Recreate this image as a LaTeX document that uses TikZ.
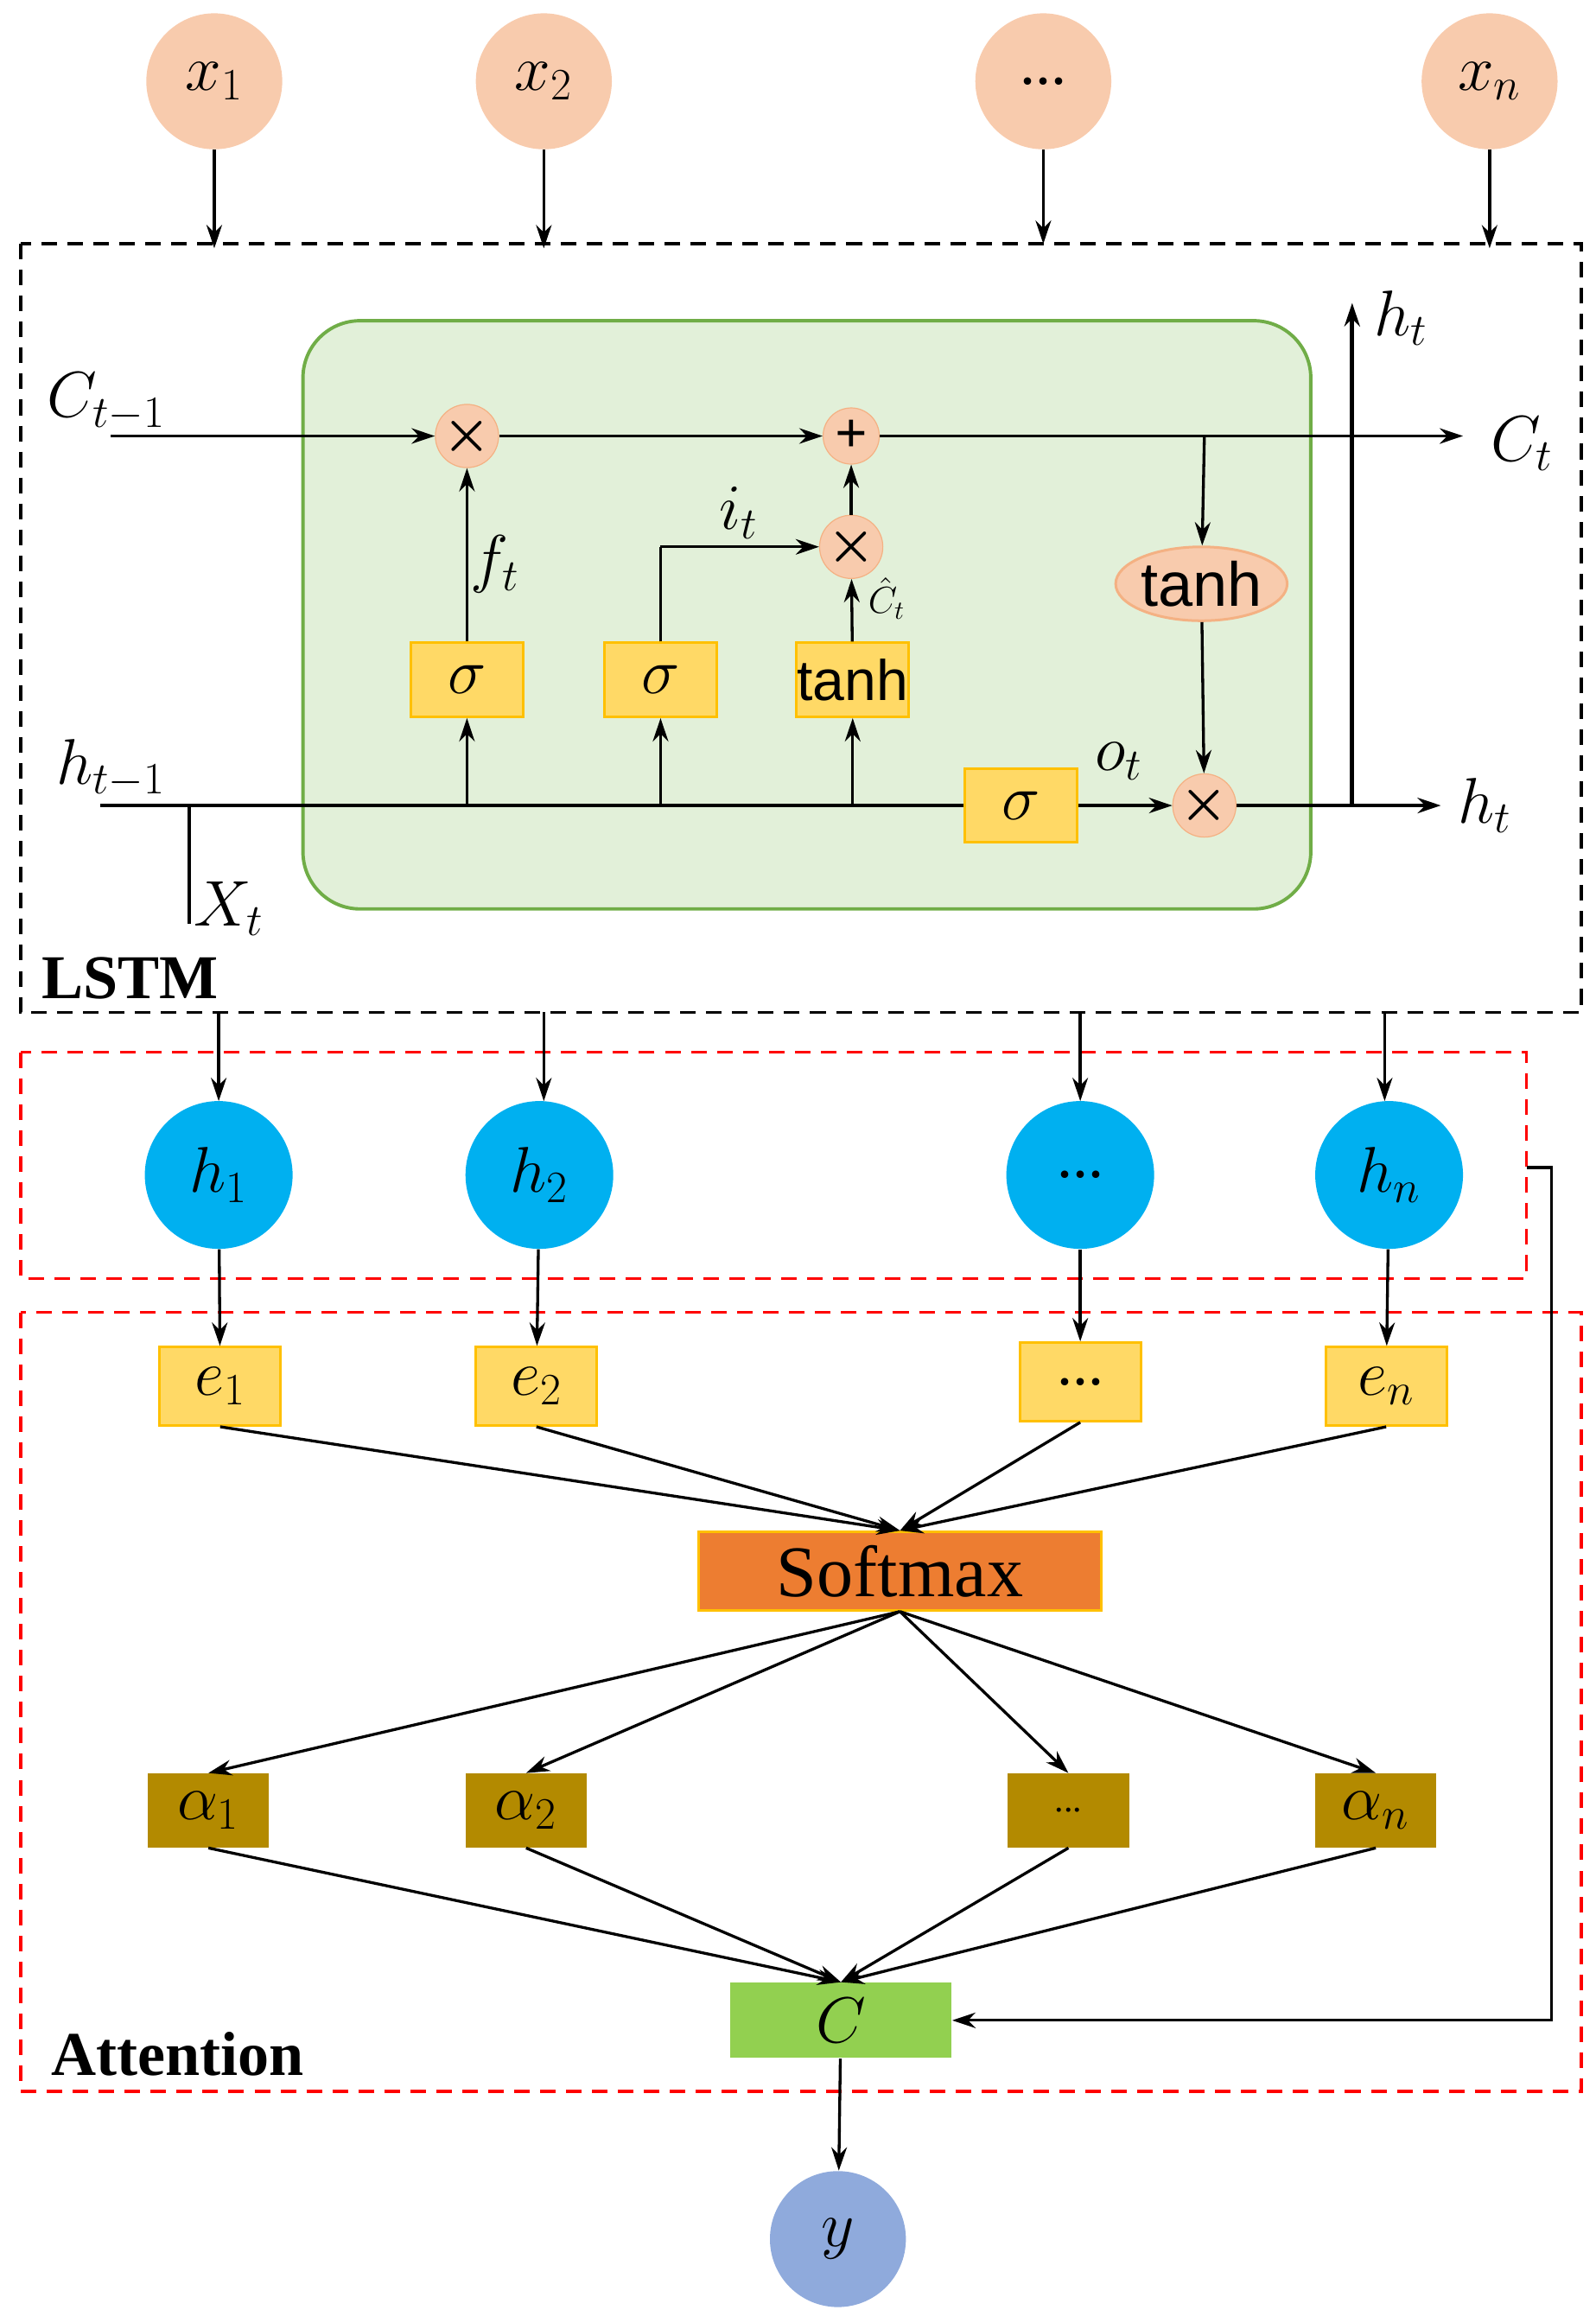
\documentclass[tikz,border=0pt]{standalone}
\usepackage{fontspec}
\setmainfont{Liberation Serif}
\newfontfamily\arialf{Liberation Sans}
\usetikzlibrary{shapes.geometric,arrows.meta}
\definecolor{peach}{HTML}{F8CBAD}
\definecolor{peachb}{HTML}{F4B183}
\definecolor{ylw}{HTML}{FFD966}
\definecolor{ylwb}{HTML}{FFC000}
\definecolor{hblue}{HTML}{00B0F0}
\definecolor{org}{HTML}{ED7D31}
\definecolor{gold}{HTML}{B38A00}
\definecolor{grn}{HTML}{92D050}
\definecolor{ycol}{HTML}{8FAADC}
\definecolor{lgrn}{HTML}{E2F0D9}
\definecolor{dgrn}{HTML}{70AD47}
\begin{document}
\begin{tikzpicture}[x=0.02cm,y=-0.02cm,
 font=\fontsize{24}{28}\selectfont,
 ar/.style={-{Stealth[length=9pt,width=6pt]},line width=1.1pt},
 ln/.style={line width=1.1pt},
 xin/.style={circle,fill=peach,minimum size=92*0.02cm,inner sep=0},
 op/.style={circle,fill=peach,draw=peachb,minimum size=38*0.02cm,inner sep=0,font=\fontsize{22}{24}\selectfont\bfseries\boldmath},
 sg/.style={rectangle,fill=ylw,draw=ylwb,line width=1pt,minimum width=76*0.02cm,minimum height=50*0.02cm,inner sep=0},
 hc/.style={circle,fill=hblue,minimum size=100*0.02cm,inner sep=0},
 eb/.style={rectangle,fill=ylw,draw=ylwb,line width=1pt,minimum width=82*0.02cm,minimum height=53*0.02cm,inner sep=0},
 ab/.style={rectangle,fill=gold,minimum width=82*0.02cm,minimum height=50*0.02cm,inner sep=0},
 lbl/.style={inner sep=0}]
\useasboundingbox (0,0) rectangle (1080,1563);
% inputs
\node[xin] (x1) at (145,55) {$x_1$};
\node[xin] (x2) at (368,55) {$x_2$};
\node[xin] (x3) at (706,55) {...};
\node[xin] (xn) at (1008,55) {$x_n$};
\coordinate (ix1) at (145,168); \coordinate (ix2) at (368,168);
\coordinate (ix3) at (706,165); \coordinate (ixn) at (1008,168);
\foreach \a/\b in {x1/ix1,x2/ix2,x3/ix3,xn/ixn}{\draw[ar] (\a) -- (\b);}
% LSTM box
\draw[dashed,line width=1.2pt,dash pattern=on 6pt off 4pt] (14,165) rectangle (1070,685);
\draw[fill=lgrn,draw=dgrn,line width=1.3pt,rounded corners=22] (205,217) rectangle (887,615);
\node[font=\fontsize{24}{28}\selectfont\bfseries,lbl] (lstm) at (88,662) {LSTM};
% ops
\node[op] (m1) at (316,295) {$\times$};
\node[op] (pl) at (576,295) {+};
\node[op] (m2) at (576,370) {$\times$};
\node[op] (m3) at (815,545) {$\times$};
\node[sg] (s1) at (316,460) {$\sigma$};
\node[sg] (s2) at (447,460) {$\sigma$};
\node[sg,font=\fontsize{22}{24}\selectfont] (tb) at (577,460) {\arialf tanh};
\node[sg] (s3) at (691,545) {$\sigma$};
\node[ellipse,fill=peach,draw=peachb,line width=1pt,minimum width=116*0.02cm,minimum height=50*0.02cm,inner sep=0] (th) at (813,395) {\arialf tanh};
% cell line
\node[lbl] (ct1) at (72,272) {$C_{t-1}$};
\coordinate (cs) at (75,295);
\draw[ar] (cs) -- (m1);
\draw[ar] (m1) -- (pl);
\coordinate (ce) at (990,295);
\draw[ar] (pl) -- (ce);
\node[lbl] (ct) at (1030,300) {$C_t$};
\draw[ar] (s1) -- (m1);
\node[lbl] (ft) at (335,382) {$f_t$};
\coordinate (ic) at (447,370);
\draw[ln] (s2.north) -- (ic);
\draw[ar] (ic) -- (m2);
\node[lbl] (it) at (500,347) {$i_t$};
\draw[ar] (m2) -- (pl);
\draw[ar] (tb) -- (m2);
\node[lbl,font=\fontsize{14}{16}\selectfont] (cht) at (600,405) {$\hat{C}_t$};
\coordinate (tc) at (815,295);
\draw[ar] (tc) -- (th);
\draw[ar] (th) -- (m3);
% h line
\node[lbl] (ht1) at (75,520) {$h_{t-1}$};
\coordinate (hs) at (68,545);
\draw[ln] (hs) -- (s3.west);
\draw[ar] (s3) -- (m3);
\node[lbl] (ot) at (757,515) {$o_t$};
\coordinate (he) at (975,545);
\draw[ar] (m3) -- (he);
\node[lbl] (ht) at (1005,545) {$h_t$};
\foreach \xx/\s in {316/s1,447/s2,577/tb}{\coordinate (b\s) at (\xx,545); \draw[ar] (b\s) -- (\s);}
\coordinate (xa) at (128,545); \coordinate (xb) at (128,625);
\draw[ln] (xa) -- (xb);
\node[lbl] (xt) at (155,615) {$X_t$};
\coordinate (hu1) at (915,545); \coordinate (hu2) at (915,205);
\draw[ar,line width=1.6pt] (hu1) -- (hu2);
\node[lbl] (htu) at (948,215) {$h_t$};
% red boxes
\draw[red,dashed,line width=1.2pt,dash pattern=on 6pt off 4pt] (14,712) rectangle (1033,865);
\draw[red,dashed,line width=1.2pt,dash pattern=on 6pt off 4pt] (14,888) rectangle (1070,1415);
\node[font=\fontsize{24}{28}\selectfont\bfseries,lbl] (att) at (120,1390) {Attention};
% h circles
\node[hc] (h1) at (148,795) {$h_1$};
\node[hc] (h2) at (365,795) {$h_2$};
\node[hc] (h3) at (731,795) {...};
\node[hc] (hn) at (940,795) {$h_n$};
\foreach \xx/\h in {148/h1,368/h2,731/h3,937/hn}{\coordinate (o\h) at (\xx,685); \draw[ar] (o\h) -- (\xx,745);}
% e boxes
\node[eb] (e1) at (149,938) {$e_1$};
\node[eb] (e2) at (363,938) {$e_2$};
\node[eb] (e3) at (731,935) {...};
\node[eb] (en) at (938,938) {$e_n$};
\foreach \a/\b in {h1/e1,h2/e2,h3/e3,hn/en}{\draw[ar] (\a) -- (\b);}
\node[rectangle,fill=org,draw=ylwb,line width=1pt,minimum width=272*0.02cm,minimum height=53*0.02cm,font=\fontsize{28}{32}\selectfont] (sm) at (609,1063) {Softmax};
\foreach \e in {e1,e2,e3,en}{\draw[ar] (\e.south) -- (sm.north);}
% alphas
\node[ab] (a1) at (141,1225) {$\alpha_1$};
\node[ab] (a2) at (356,1225) {$\alpha_2$};
\node[ab,font=\fontsize{14}{16}\selectfont] (a3) at (723,1225) {...};
\node[ab] (an) at (931,1225) {$\alpha_n$};
\foreach \a in {a1,a2,a3,an}{\draw[ar] (sm.south) -- (\a.north);}
\node[rectangle,fill=grn,minimum width=150*0.02cm,minimum height=51*0.02cm,inner sep=0] (C) at (569,1367) {$C$};
\foreach \a in {a1,a2,a3,an}{\draw[ar] (\a.south) -- (C.north);}
\coordinate (r1) at (1033,790); \coordinate (r2) at (1050,790); \coordinate (r3) at (1050,1367);
\draw[ar] (r1) -- (r2) -- (r3) -- (C.east);
\node[circle,fill=ycol,minimum size=92*0.02cm,inner sep=0] (y) at (567,1515) {$y$};
\draw[ar] (C) -- (y);
\end{tikzpicture}
\end{document}
